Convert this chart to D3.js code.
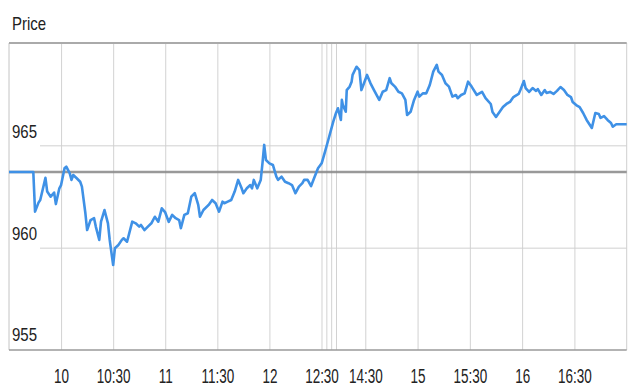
<!DOCTYPE html>
<html><head><meta charset="utf-8">
<script src="https://cdn.jsdelivr.net/npm/d3@7"></script>
<style>
body{margin:0;background:#fff}
svg{display:block}
text{font-family:"Liberation Sans",Arial,sans-serif;fill:#222}
</style>
</head><body>
<svg id="chart" width="640" height="390"></svg>
<script>
// ---- data ----
const times = ["9:30","9:44","9:45","9:47","9:48","9:51","9:52","9:54","9:56","9:57","9:59","10:00","10:02","10:03","10:05","10:06","10:07","10:09","10:11","10:12","10:14","10:15","10:17","10:19","10:20","10:22","10:23","10:25","10:27","10:28","10:30","10:31","10:33","10:35","10:36","10:38","10:41","10:43","10:45","10:46","10:48","10:50","10:52","10:54","10:56","10:58","11:00","11:02","11:04","11:06","11:08","11:09","11:11","11:13","11:15","11:17","11:19","11:20","11:22","11:25","11:27","11:29","11:31","11:33","11:34","11:36","11:38","11:40","11:42","11:44","11:45","11:47","11:49","11:50","11:51","11:53","11:55","11:56","11:57","11:58","12:00","12:02","12:04","12:05","12:07","12:09","12:11","12:13","12:15","12:17","12:19","12:20","12:22","12:24","12:26","12:28","12:31","12:52","13:12","13:43","14:00","14:02","14:05","14:06","14:07","14:10","14:11","14:14","14:16","14:17","14:21","14:24","14:26","14:28","14:31","14:33","14:35","14:37","14:38","14:40","14:42","14:44","14:45","14:47","14:49","14:51","14:53","14:54","14:56","14:58","15:00","15:01","15:03","15:05","15:07","15:09","15:11","15:12","15:14","15:16","15:18","15:20","15:22","15:23","15:25","15:27","15:29","15:31","15:34","15:37","15:39","15:42","15:43","15:45","15:47","15:49","15:51","15:53","15:55","15:58","15:59","16:01","16:02","16:04","16:06","16:08","16:09","16:11","16:13","16:14","16:16","16:18","16:20","16:22","16:24","16:26","16:28","16:29","16:31","16:33","16:35","16:37","16:40","16:42","16:44","16:45","16:47","16:49","16:51","16:52","16:54","16:56","17:00"];
const prices = [963.70,963.70,961.76,962.20,962.33,963.41,962.74,962.49,962.69,962.13,962.90,963.06,963.88,963.96,963.63,963.31,963.55,963.39,963.22,962.98,961.68,960.86,961.35,961.44,961.03,960.38,961.27,961.84,961.19,960.38,959.15,959.97,960.13,960.38,960.46,960.29,961.27,961.19,961.03,961.11,960.86,961.03,961.19,961.51,961.27,961.92,961.72,961.26,961.60,961.44,961.35,960.95,961.60,961.68,962.49,962.66,962.09,961.51,961.84,962.09,962.33,962.17,961.76,962.25,962.17,962.25,962.33,962.74,963.31,962.90,962.66,962.90,963.06,962.90,963.31,962.90,963.31,964.12,965.02,964.28,964.12,964.04,963.47,963.31,963.47,963.22,963.15,963.06,962.66,962.98,963.15,963.31,963.31,963.01,963.45,963.88,964.12,964.69,965.26,966.16,966.58,966.81,966.24,967.22,966.97,966.64,967.70,967.87,968.11,968.44,968.84,968.68,967.70,967.95,968.44,968.03,967.70,967.38,967.22,967.62,967.70,968.28,968.03,967.87,967.62,967.54,967.22,966.48,966.64,967.22,967.62,967.38,967.54,967.54,967.95,968.60,968.93,968.60,968.44,968.03,967.87,967.38,967.46,967.30,967.46,967.54,968.11,967.87,967.46,967.61,967.31,967.02,966.63,966.39,966.63,966.87,967.02,967.12,967.36,967.51,967.70,968.14,967.80,967.61,967.80,967.66,967.75,967.46,967.70,967.56,967.61,967.51,967.66,967.85,967.70,967.46,967.36,967.12,966.97,966.87,966.58,966.24,965.85,966.58,966.53,966.34,966.43,966.24,966.09,965.91,966.03,966.03,966.03];
const previousClose = 963.7;
const xTickTimes = ["10:00","10:30","11:00","11:30","12:00","12:30","14:30","15:00","15:30","16:00","16:30"];
const xTickLabels = ["10","10:30","11","11:30","12","12:30","14:30","15","15:30","16","16:30"];
const breakTimes = ["13:00","13:30","14:00"];
const yTicks = [955, 960, 965];
const yDomain = [955, 970];
const sessionBounds = ["9:30","12:30","14:00","14:30","17:00"];
const title = "Price";

// ---- layout ----
const L = 9, R = 626.7, T = 43, B = 350;
const W = R - L;
const toMin = s => { const [h, m] = s.split(":").map(Number); return h * 60 + m; };
const segFrac = [0, 0.5059, 0.5294, 0.5768, 1];

const x = d3.scaleLinear()
  .domain(sessionBounds.map(toMin))
  .range(segFrac.map(f => L + f * W));
const y = d3.scaleLinear().domain(yDomain).range([B, T]);

const svg = d3.select("#chart");
svg.append("rect").attr("width", 640).attr("height", 390).attr("fill", "#fff");

// vertical grid
const vgrid = svg.append("g").attr("transform", `translate(0,${B})`)
  .call(d3.axisBottom(x)
    .tickValues(xTickTimes.concat(breakTimes).map(toMin))
    .tickSize(-(B - T)).tickFormat(""));
vgrid.select(".domain").remove();
vgrid.selectAll("line").attr("stroke", "#d2d2d2").attr("stroke-width", 1);

// horizontal grid (starts after labels)
const hgrid = svg.append("g").attr("transform", `translate(40,0)`)
  .call(d3.axisRight(y).tickValues(yTicks.filter(v => v > yDomain[0]))
    .tickSize(R - 40).tickFormat(""));
hgrid.select(".domain").remove();
hgrid.selectAll("line").attr("stroke", "#d0d0d0").attr("stroke-width", 1);

// borders
svg.append("line").attr("x1", L).attr("x2", L).attr("y1", T).attr("y2", B).attr("stroke", "#c4c4c4");
svg.append("line").attr("x1", R).attr("x2", R).attr("y1", T).attr("y2", B).attr("stroke", "#cfcfcf");
svg.append("line").attr("x1", L).attr("x2", R).attr("y1", T).attr("y2", T).attr("stroke", "#aaa").attr("stroke-width", 2);
svg.append("line").attr("x1", L).attr("x2", R).attr("y1", B).attr("y2", B).attr("stroke", "#9a9a9a").attr("stroke-width", 1.5);

// previous close line
svg.append("line")
  .attr("x1", L).attr("x2", R)
  .attr("y1", y(previousClose)).attr("y2", y(previousClose))
  .attr("stroke", "#8e8e8e").attr("stroke-width", 2.6).attr("opacity", 0.9);

// price line
const series = times.map((t, i) => ({ t: toMin(t), v: prices[i] }));
svg.append("path").datum(series)
  .attr("fill", "none")
  .attr("stroke", "#3f91e6")
  .attr("stroke-width", 2.6)
  .attr("stroke-linejoin", "round")
  .attr("d", d3.line().x(d => x(d.t)).y(d => y(d.v)));

// x labels
const xa = svg.append("g").attr("transform", `translate(0,${B})`)
  .call(d3.axisBottom(x).tickValues(xTickTimes.map(toMin))
    .tickFormat((d, i) => xTickLabels[i]).tickSize(0));
xa.select(".domain").remove();
xa.selectAll("text")
  .attr("y", 0).attr("dy", 0)
  .attr("transform", "translate(0,33) scale(1,1.5)")
  .style("font-size", "13.5px").attr("fill", "#222");

// y labels
const ya = svg.append("g").attr("transform", `translate(12,0)`)
  .call(d3.axisRight(y).tickValues(yTicks).tickSize(0).tickPadding(0));
ya.select(".domain").remove();
ya.selectAll("text")
  .attr("x", 0).attr("dy", 0).attr("y", 0)
  .attr("text-anchor", "start")
  .attr("transform", d => `translate(0,${d === yDomain[0] ? -10 : -8}) scale(1,1.27)`)
  .style("font-size", "15px").attr("fill", "#222");

// title
svg.append("text").attr("transform", "translate(12,30) scale(1,1.2)")
  .style("font-size", "15px").text(title);
</script>
</body></html>
